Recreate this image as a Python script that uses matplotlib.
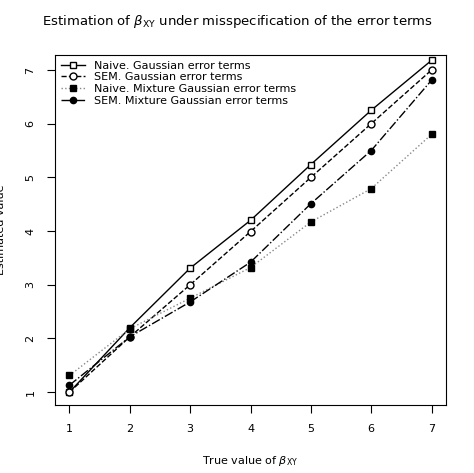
import matplotlib
matplotlib.use("Agg")
import matplotlib.pyplot as plt

x = [1, 2, 3, 4, 5, 6, 7]
naive_gauss = [1.0, 2.2, 3.31, 4.2, 5.24, 6.25, 7.18]
sem_gauss = [1.0, 2.03, 3.0, 3.99, 5.0, 6.0, 7.0]
naive_mix = [1.31, 2.18, 2.75, 3.32, 4.17, 4.79, 5.8]
sem_mix = [1.13, 2.03, 2.68, 3.42, 4.51, 5.5, 6.81]
labels = ["Naive. Gaussian error terms", "SEM. Gaussian error terms",
          "Naive. Mixture Gaussian error terms", "SEM. Mixture Gaussian error terms"]

fig = plt.figure(figsize=(4.74, 4.73), dpi=100)
ax = fig.add_axes([55/474, 1-405/473, (446-55)/474, (405-55)/473])
ax.plot(x, naive_gauss, '-', color='black', lw=1, marker='s', mfc='white', ms=5, label=labels[0])
ax.plot(x, sem_gauss, '--', color='black', lw=1, marker='o', mfc='white', ms=5, label=labels[1])
ax.plot(x, naive_mix, ':', color='#888888', lw=1, marker='s', mfc='black', mec='black', ms=4.5, label=labels[2])
ax.plot(x, sem_mix, '-.', color='black', lw=1, marker='o', mfc='black', ms=4.5, label=labels[3])
ax.set_xlim(0.76, 7.24)
ax.set_ylim(0.76, 7.28)
ax.set_xticks(x)
ax.set_yticks(x)
for t in ax.get_yticklabels():
    t.set_rotation(90)
    t.set_va('center')
ax.tick_params(labelsize=8, length=6, pad=8)
ax.set_xlabel(r"True value of $\beta_{\mathrm{XY}}$", fontsize=8, labelpad=14)
ax.set_ylabel("Estimated value", fontsize=8, labelpad=14)
fig.text(0.5, 1-22/473, r"Estimation of $\beta_{\mathrm{XY}}$ under misspecification of the error terms",
         ha='center', va='center', fontsize=9.5)
ax.legend(loc='upper left', frameon=False, fontsize=8, handlelength=2.2,
          borderaxespad=0.1, labelspacing=0.15)
fig.savefig("out.png", dpi=100)
